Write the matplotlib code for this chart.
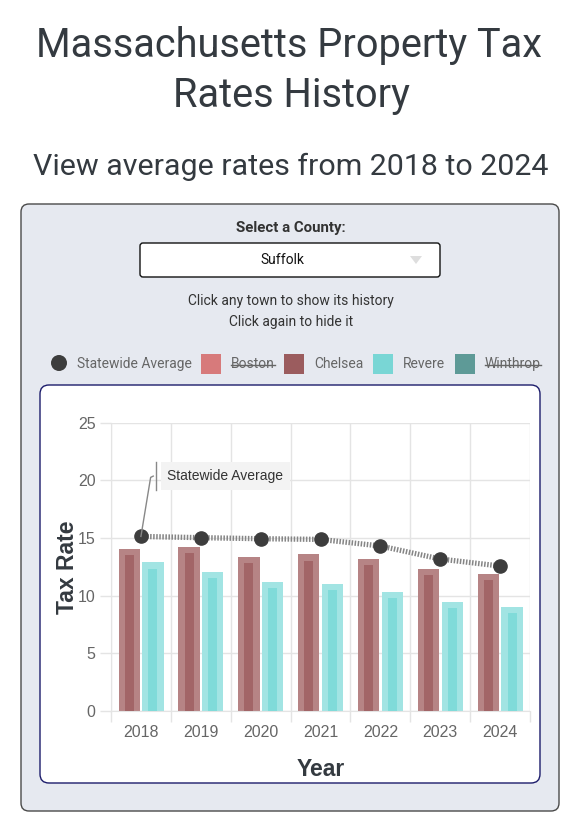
import matplotlib
matplotlib.use("Agg")
import matplotlib.pyplot as plt
from matplotlib import patches
import numpy as np

# data
years = ["2018", "2019", "2020", "2021", "2022", "2023", "2024"]
statewide = [15.14, 15.03, 14.94, 14.88, 14.31, 13.18, 12.57]
chelsea = [14.08, 14.22, 13.35, 13.58, 13.21, 12.31, 11.88]
revere = [12.89, 12.05, 11.21, 11.01, 10.35, 9.45, 9.05]
legend_names = ["Statewide Average", "Boston", "Chelsea", "Revere", "Winthrop"]
legend_hidden = [False, True, False, False, True]
legend_colors = ["#3d3d3d", "#d77a7b", "#9b5c5e", "#79d6d5", "#5e9a97"]

W, H = 582, 830
fig = plt.figure(figsize=(W / 100, H / 100), dpi=100)
fig.patch.set_facecolor("white")

# page layer in pixel coordinates (y down)
bg = fig.add_axes([0, 0, 1, 1])
bg.set_xlim(0, W)
bg.set_ylim(H, 0)
bg.axis("off")

ui = "Roboto"
dark = "#343a40"
bg.text(W / 2 - 2, 57, "Massachusetts Property Tax", ha="center", va="baseline",
        fontsize=28.6, family=ui, color=dark)
bg.text(W / 2, 107, "Rates History", ha="center", va="baseline",
        fontsize=28.6, family=ui, color=dark)
bg.text(W / 2, 175, "View average rates from 2018 to 2024", ha="center",
        va="baseline", fontsize=21.9, family=ui, color=dark)

panel = patches.FancyBboxPatch((21, 204), 538, 607, boxstyle="round,pad=0,rounding_size=8",
                               facecolor="#e6e9f0", edgecolor="#4a4a4a", lw=1)
bg.add_patch(panel)
bg.text(291, 228, "Select a County:", ha="center", va="center", fontsize=10.8,
        family=ui, weight="bold", color="#333333")
drop = patches.FancyBboxPatch((140, 243), 300, 34, boxstyle="round,pad=0,rounding_size=3",
                              facecolor="white", edgecolor="#111111", lw=1)
bg.add_patch(drop)
bg.text(282, 260, "Suffolk", ha="center", va="center", fontsize=10, family=ui, color="#111111")
bg.add_patch(patches.Polygon([[410, 256], [422, 256], [416, 264]], closed=True,
                             facecolor="#dedede", edgecolor="none"))
bg.text(291, 301, "Click any town to show its history", ha="center", va="center",
        fontsize=10, family=ui, color="#333333")
bg.text(291, 322, "Click again to hide it", ha="center", va="center",
        fontsize=10, family=ui, color="#333333")

# legend
ly = 364
bg.add_patch(patches.Circle((59, ly - 1), 8, facecolor=legend_colors[0], edgecolor="none"))
sw_x = [None, 201, 284, 373, 455]
tx_x = [77, 231, 314, 403, 485]
leg_texts = []
for i, name in enumerate(legend_names):
    if sw_x[i] is not None:
        bg.add_patch(patches.Rectangle((sw_x[i], ly - 10), 20, 20,
                                       facecolor=legend_colors[i], edgecolor="none"))
    t = bg.text(tx_x[i], ly, name, ha="left", va="center", fontsize=10,
                family=ui, color="#666666")
    leg_texts.append(t)

box = patches.FancyBboxPatch((40, 385), 500, 398, boxstyle="round,pad=0,rounding_size=9",
                             facecolor="white", edgecolor="#1c1c6b", lw=1)
bg.add_patch(box)

# chart axes
ax = fig.add_axes([111 / W, (H - 711) / H, 419 / W, 288.3 / H])
ax.patch.set_alpha(0)
x = np.arange(len(years))
grid_c = "#e4e4e4"
chart_font = "Liberation Sans"

ax.bar(x - 0.195, chelsea, width=0.355, color="#b68485", zorder=2)
ax.bar(x - 0.195, np.array(chelsea) - 0.55, width=0.15, color="#a26567", zorder=3)
ax.bar(x + 0.2, revere, width=0.355, color="#a2e4e3", zorder=2)
ax.bar(x + 0.2, np.array(revere) - 0.55, width=0.15, color="#80dbd9", zorder=3)

plt.rcParams["lines.scale_dashes"] = False
ax.plot(x, statewide, color="#858585", lw=3.8, dashes=(1.1, 1.1), zorder=4)
ax.plot(x, statewide, "o", color="#3d3d3d", ms=9.5, zorder=5)

ax.set_xlim(-0.5, len(years) - 0.5)
ax.set_ylim(0, 25)
ax.set_yticks([0, 5, 10, 15, 20, 25])
ax.set_xticks(x)
ax.set_xticklabels(years)
ax.set_xticks(np.arange(-0.5, len(years)), minor=True)
ax.grid(True, which="minor", axis="x", color=grid_c, lw=1, zorder=0)
ax.grid(True, which="major", axis="y", color=grid_c, lw=1, zorder=0)
ax.tick_params(axis="x", which="major", length=0, pad=10)
ax.tick_params(axis="x", which="minor", length=8, color=grid_c, width=1)
ax.tick_params(axis="y", length=8, color=grid_c, width=1, pad=3)
for lab in ax.get_xticklabels() + ax.get_yticklabels():
    lab.set_family(chart_font)
    lab.set_fontsize(11.5)
    lab.set_color("#666666")
for side in ["top", "right"]:
    ax.spines[side].set_visible(False)
for side in ["left", "bottom"]:
    ax.spines[side].set_color(grid_c)
ax.set_xlabel("Year", family=chart_font, weight="bold", fontsize=16.5, color=dark, labelpad=13)
ax.set_ylabel("Tax Rate", family=chart_font, weight="bold", fontsize=16.5, color=dark, labelpad=-0.5)

# "Statewide Average" label with leader, placed from the first point
fig.canvas.draw()
px, py = bg.transData.inverted().transform(ax.transData.transform((0, statewide[0])))
ax.plot([px, px + 9.7, px + 12.3], [py, py - 59, py - 60.3], color="#888888", lw=1,
        transform=bg.transData, clip_on=False, zorder=6)
ax.plot([px + 15, px + 15], [py - 74, py - 46], color="#888888", lw=1,
        transform=bg.transData, clip_on=False, zorder=6)
ax.add_patch(patches.Rectangle((px + 20, py - 74), 129, 28, facecolor="#f3f3f3",
                               edgecolor="none", transform=bg.transData, clip_on=False, zorder=6))
ax.text(px + 26, py - 60, "Statewide Average", ha="left", va="center", fontsize=10,
        family=chart_font, color="#333333", transform=bg.transData, zorder=7)

# strike-through on hidden legend entries
inv = bg.transData.inverted()
for t, hidden in zip(leg_texts, legend_hidden):
    if hidden:
        ext = t.get_window_extent()
        (x0, _), (x1, _) = inv.transform([[ext.x0, ext.y0], [ext.x1, ext.y1]])
        bg.plot([x0, x1], [ly + 1, ly + 1], color="#666666", lw=1)

fig.savefig("out.png", dpi=100)
